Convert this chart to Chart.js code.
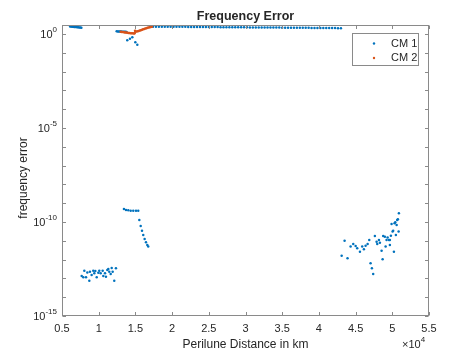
<!DOCTYPE html>
<html><head><meta charset="utf-8">
<style>html,body{margin:0;padding:0;background:#fff;}#wrap{width:474px;height:355px;}</style>
<script src="https://cdn.jsdelivr.net/npm/chart.js@4.4.1/dist/chart.umd.min.js"></script>
</head><body><div id="wrap"><canvas id="c" width="474" height="355"></canvas></div>
<script>
// ---- data (x in km, y = frequency error) ----
const cm1TopAX = [6100,6240,6380,6520,6660,6800,6940,7080,7220,7360,7500,7640];
const cm1TopAY = [2.5,2.47,2.44,2.41,2.38,2.35,2.32,2.28,2.25,2.22,2.18,2.15];
const cm1TopBX = [12450,12600,12750,12900,13050,13200,13350,13500,13650,13800];
const cm1TopBY = [1.38,1.37,1.36,1.35,1.34,1.33,1.32,1.31,1.3,1.29];
const cm1DipX = [13890,14260,14580,14990,15260];
const cm1DipY = [0.46,0.56,0.67,0.36,0.27];
const cm1MainX = [17000,17400,17800,18200,18600,19000,19400,19800,20200,20600,21000,21400,21800,22200,22600,23000,23400,23800,24200,24600,25000,25400,25800,26200,26600,27000,27400,27800,28200,28600,29000,29400,29800,30200,30600,31000,31400,31800,32200,32600,33000,33400,33800,34200,34600,35000,35400,35800,36200,36600,37000,37400,37800,38200,38600,39000,39400,39800,40200,40600,41000,41400,41800,42200,42600,43000];
const cm1MainY = [2.45,2.45,2.44,2.44,2.43,2.43,2.42,2.42,2.41,2.41,2.4,2.39,2.39,2.38,2.38,2.37,2.36,2.36,2.35,2.34,2.34,2.33,2.32,2.32,2.31,2.3,2.3,2.29,2.28,2.28,2.27,2.26,2.26,2.25,2.24,2.24,2.23,2.22,2.22,2.21,2.2,2.2,2.19,2.18,2.18,2.17,2.16,2.16,2.15,2.14,2.14,2.13,2.12,2.12,2.11,2.1,2.1,2.09,2.08,2.08,2.07,2.06,2.06,2.05,2.04,2.04];
const cm1LowX = [7680,7900,8040,8270,8450,8720,8810,9040,9260,9400,9540,9730,9950,10080,10270,10540,10630,10860,10990,11170,11310,11440,11630,11770,11900,12120,12350];
const cm1LowY = [1.35e-13,1.15e-13,2.57e-13,1.15e-13,2.09e-13,7.59e-14,2.29e-13,1.51e-13,2.57e-13,1.86e-13,2.45e-13,1.15e-13,2.0e-13,2.57e-13,1.86e-13,2.57e-13,1.35e-13,1.86e-13,1.23e-13,2.82e-13,3.16e-13,2.29e-13,1.70e-13,3.55e-13,2.29e-13,7.59e-14,3.47e-13];
const cm1MidX = [13440,13720,14030,14360,14710,15080,15390,15530,15720,15900,16070,16260,16440,16620,16750];
const cm1MidY = [4.9e-10,4.37e-10,4.17e-10,3.98e-10,3.98e-10,3.98e-10,3.98e-10,1.29e-10,6.17e-11,3.47e-11,2.04e-11,1.26e-11,8.32e-12,6.03e-12,4.9e-12];
const cm1RightX = [43100,43500,43900,44320,44680,45000,45220,45590,45900,46130,46360,46640,46860,47040,47220,47400,47630,47860,47950,48180,48310,48540,48680,48760,48990,49090,49220,49360,49540,49670,49670,49810,49900,50040,50120,50220,50310,50400,50490,50590,50670,50760,50860,50900];
const cm1RightY = [1.62e-12,1.02e-11,1.17e-12,4.9e-12,6.76e-12,5.25e-12,3.98e-12,2.63e-12,4.9e-12,3.55e-12,5.5e-12,6.76e-12,1.1e-11,6.31e-13,3.47e-13,1.7e-13,1.82e-11,8.91e-12,6.76e-12,1.1e-11,7.94e-12,2.95e-12,1.05e-12,1.82e-11,1.66e-11,4.9e-12,1.1e-11,1.48e-11,1.1e-11,1.1e-11,6.03e-12,1.86e-11,7.76e-11,3.09e-11,3.47e-11,2.63e-12,8.51e-11,9.55e-11,2.04e-11,6.92e-11,1.29e-10,1.38e-10,3.09e-11,2.88e-10];
const cm2X = [13000,13150,13300,13450,13600,13750,13900,14050,14200,14350,14500,14650,14800,14900,14950,15000,15150,15300,15450,15600,15750,15900,16050,16200,16350,16500,16650,16800,16950,17100,17250];
const cm2Y = [1.32,1.29,1.26,1.23,1.2,1.18,1.16,1.14,1.12,1.1,1.09,1.08,1.07,1.1,1.5,1.3,1.34,1.39,1.45,1.52,1.6,1.68,1.77,1.86,1.95,2.04,2.13,2.22,2.3,2.38,2.45];
const xTickValues = [5000,10000,15000,20000,25000,30000,35000,40000,45000,50000,55000];
const xTickLabels = ['0.5','1','1.5','2','2.5','3','3.5','4','4.5','5','5.5'];
const yDecadeExps = [0,-1,-2,-3,-4,-5,-6,-7,-8,-9,-10,-11,-12,-13,-14,-15];
const yLabelExps = [0,-5,-10,-15];
const seriesNames = ['CM 1','CM 2'];

function zip(xs, ys){ const out=[]; for(let i=0;i<Math.min(xs.length,ys.length);i++) out.push({x:xs[i],y:ys[i]}); return out; }
const cm1 = [].concat(zip(cm1TopAX,cm1TopAY),zip(cm1TopBX,cm1TopBY),zip(cm1DipX,cm1DipY),zip(cm1MainX,cm1MainY),zip(cm1LowX,cm1LowY),zip(cm1MidX,cm1MidY),zip(cm1RightX,cm1RightY));
const cm2 = zip(cm2X,cm2Y);

const BLUE='#0072BD', ORANGE='#D95319', AX='#262626', LINE='#8a8a8a';
const FONT="'Liberation Sans', Arial, Helvetica, sans-serif";

const matlabAxes = {
  id:'matlabAxes',
  afterDraw(chart){
    const ctx=chart.ctx, a=chart.chartArea, xs=chart.scales.x, ys=chart.scales.y;
    ctx.save();
    ctx.strokeStyle=LINE; ctx.lineWidth=1;
    const L=Math.round(a.left)+0.5, R=Math.round(a.right)-0.5, T=Math.round(a.top)+0.5, B=Math.round(a.bottom)-0.5;
    ctx.strokeRect(L,T,R-L,B-T);
    const tl=3.5;
    ctx.beginPath();
    xTickValues.forEach(v=>{ const px=Math.round(xs.getPixelForValue(v))+0.5; ctx.moveTo(px,B); ctx.lineTo(px,B-tl); ctx.moveTo(px,T); ctx.lineTo(px,T+tl); });
    yDecadeExps.forEach(e=>{ const py=Math.round(ys.getPixelForValue(Math.pow(10,e)))+0.5; ctx.moveTo(L,py); ctx.lineTo(L+tl,py); ctx.moveTo(R,py); ctx.lineTo(R-tl,py); });
    ctx.stroke();
    ctx.fillStyle=AX;
    // y tick labels with superscripts
    yLabelExps.forEach(e=>{
      const py=ys.getPixelForValue(Math.pow(10,e));
      ctx.font='11px '+FONT; const w1=ctx.measureText('10').width;
      const sup=String(e);
      ctx.font='8px '+FONT; const w2=ctx.measureText(sup).width;
      const right=57, x0=right-w1-w2;
      ctx.textAlign='left'; ctx.textBaseline='middle';
      ctx.font='11px '+FONT; ctx.fillText('10',x0,py+1);
      ctx.textBaseline='alphabetic';
      ctx.font='8px '+FONT; ctx.fillText(sup,x0+w1,py-2);
    });
    // title
    ctx.textAlign='center'; ctx.textBaseline='middle';
    ctx.font='bold 12.5px '+FONT; ctx.fillText('Frequency Error',(a.left+a.right)/2,16.5);
    // x label
    ctx.font='12px '+FONT; ctx.textBaseline='alphabetic';
    ctx.fillText('Perilune Distance in km',(a.left+a.right)/2,347.5);
    // exponent
    ctx.textAlign='left';
    ctx.font='11px '+FONT; ctx.fillText('\u00d710',402,347.5);
    const wx=ctx.measureText('\u00d710').width;
    ctx.font='8px '+FONT; ctx.fillText('4',402+wx,342);
    // y label
    ctx.save(); ctx.translate(24,178); ctx.rotate(-Math.PI/2);
    ctx.textAlign='center'; ctx.textBaseline='middle'; ctx.font='12px '+FONT;
    ctx.fillText('frequency error',0,0); ctx.restore();
    // legend
    ctx.fillStyle='#fff'; ctx.fillRect(353,34,65,31);
    ctx.strokeStyle=LINE; ctx.lineWidth=1; ctx.strokeRect(352.5,33.5,66,32);
    [[BLUE,43.5],[ORANGE,58]].forEach((c,i)=>{
      ctx.fillStyle=c[0]; ctx.beginPath(); ctx.arc(374,c[1],1.2,0,Math.PI*2); ctx.fill();
      ctx.fillStyle=AX; ctx.font='11px '+FONT; ctx.textAlign='left'; ctx.textBaseline='middle';
      ctx.fillText(seriesNames[i],391,c[1]);
    });
    ctx.restore();
  }
};

new Chart(document.getElementById('c'),{
  type:'scatter',
  data:{datasets:[
    {label:seriesNames[0],data:cm1,backgroundColor:BLUE,borderColor:BLUE,pointRadius:1.25,pointBorderWidth:0,pointHoverRadius:1.25,order:1},
    {label:seriesNames[1],data:cm2,backgroundColor:ORANGE,borderColor:ORANGE,pointRadius:1.25,pointBorderWidth:0,pointHoverRadius:1.25,order:0}
  ]},
  options:{
    responsive:false, animation:false, devicePixelRatio:1,
    layout:{padding:{left:0,right:45,top:25,bottom:0}},
    plugins:{legend:{display:false},tooltip:{enabled:false},title:{display:false}},
    scales:{
      x:{type:'linear',min:5000,max:55000,
         afterFit(s){s.height=39;},
         afterBuildTicks(s){s.ticks=xTickValues.map(v=>({value:v}));},
         grid:{display:false,drawTicks:false},border:{display:false},
         ticks:{padding:6,autoSkip:false,maxRotation:0,color:AX,font:{family:FONT,size:11},
           callback:(v)=>{const i=xTickValues.indexOf(v);return i>=0?xTickLabels[i]:'';}}},
      y:{type:'logarithmic',min:1e-15,max:3,
         afterFit(s){s.width=62;},
         grid:{display:false,drawTicks:false},border:{display:false},
         ticks:{display:false}}
    }
  },
  plugins:[matlabAxes]
});
</script></body></html>
